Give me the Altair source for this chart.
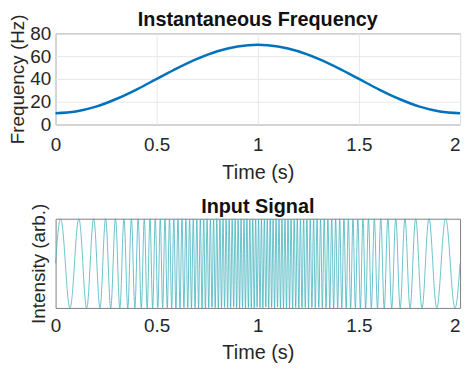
import altair as alt
import numpy as np
import pandas as pd

# Instantaneous frequency (Hz) at 0.1 s steps
freq_time = [0.0, 0.1, 0.2, 0.3, 0.4, 0.5, 0.6, 0.7, 0.8, 0.9, 1.0,
             1.1, 1.2, 1.3, 1.4, 1.5, 1.6, 1.7, 1.8, 1.9, 2.0]
freq_hz = [10.0, 11.5, 15.7, 22.4, 30.7, 40.0, 49.3, 57.6, 64.3, 68.5, 70.0,
           68.5, 64.3, 57.6, 49.3, 40.0, 30.7, 22.4, 15.7, 11.5, 10.0]

x_ticks = [0, 0.5, 1, 1.5, 2]
y_ticks = [0, 20, 40, 60, 80]

# Input signal: a chirp whose phase follows the frequency curve above
dt = 0.001
t_sig = np.arange(0, 2 + dt / 2, dt)
f_sig = np.interp(t_sig, freq_time, freq_hz)
phase = np.concatenate([[0.0], np.cumsum((f_sig[1:] + f_sig[:-1]) / 2 * dt)])
sig = np.sin(2 * np.pi * phase)

df_f = pd.DataFrame({"t": freq_time, "f": freq_hz})
df_s = pd.DataFrame({"t": t_sig, "s": sig})

FONT = "Liberation Sans"
W = 408
H_TOP, H_BOT = 92, 90
LBL, TTL = 19, 19

last_right = {"condition": {"test": "datum.value == 2", "value": "right"}, "value": "center"}

top = alt.Chart(df_f).mark_line(color="#0072BD", strokeWidth=2.5, interpolate="monotone").encode(
    x=alt.X("t:Q", scale=alt.Scale(domain=[0, 2], nice=False),
            axis=alt.Axis(title="Time (s)", values=x_ticks, format="~g", grid=True,
                          gridColor="#e8e8e8", ticks=False, domain=False,
                          labelAlign=last_right,
                          labelFontSize=LBL, titleFontSize=20, labelPadding=11,
                          titlePadding=8, titleFontWeight="normal")),
    y=alt.Y("f:Q", scale=alt.Scale(domain=[0, 80], nice=False),
            axis=alt.Axis(title="Frequency (Hz)", values=y_ticks, grid=True,
                          gridColor="#e8e8e8", ticks=False, domain=False,
                          labelFontSize=LBL, titleFontSize=TTL, labelPadding=5,
                          titlePadding=2, titleFontWeight="normal")),
).properties(width=W, height=H_TOP,
             title=alt.TitleParams("Instantaneous Frequency", fontSize=20, fontWeight="bold", offset=-16))

bottom = alt.Chart(df_s).mark_line(color="#44B3BE", strokeWidth=0.8).encode(
    x=alt.X("t:Q", scale=alt.Scale(domain=[0, 2], nice=False),
            axis=alt.Axis(title="Time (s)", values=x_ticks, format="~g", grid=False,
                          ticks=False, domain=False,
                          labelAlign=last_right,
                          labelFontSize=LBL, titleFontSize=20, labelPadding=9,
                          titlePadding=7, titleFontWeight="normal")),
    y=alt.Y("s:Q", scale=alt.Scale(domain=[-1, 1], nice=False),
            axis=alt.Axis(title="Intensity (arb.)", labels=False, grid=False,
                          ticks=False, domain=False,
                          titleFontSize=TTL, titlePadding=7, titleFontWeight="normal")),
).properties(width=W, height=H_BOT,
             title=alt.TitleParams("Input Signal", fontSize=20, fontWeight="bold", offset=-14))

chart = alt.vconcat(top, bottom, spacing=95, bounds="flush").properties(padding=0).configure(
    font=FONT,
).configure_view(stroke="#808080", strokeWidth=1).configure_axis(
    labelColor="#262626", titleColor="#262626", labelFont=FONT, titleFont=FONT
).configure_title(font=FONT, color="#111111")

chart.save("out.html", embed_options={"renderer": "svg", "actions": False})
